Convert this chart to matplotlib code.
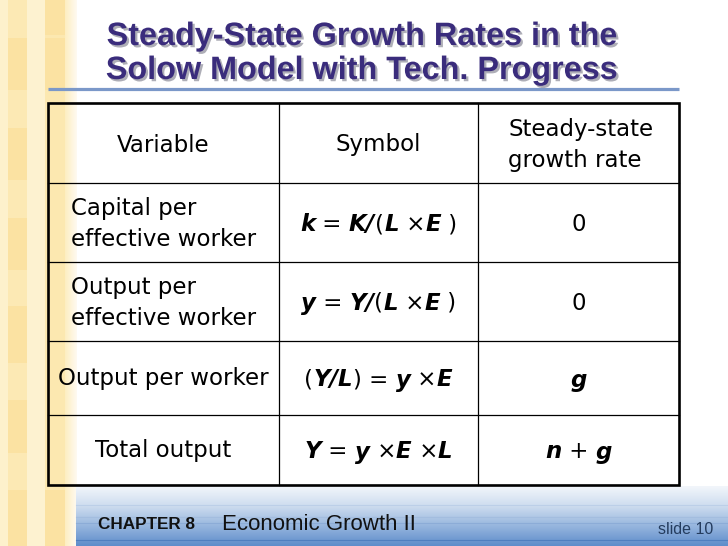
import numpy as np
import matplotlib
matplotlib.use("Agg")
import matplotlib.pyplot as plt
import matplotlib.patheffects as pe
from matplotlib.patches import Rectangle

# Slide content
title_lines = ["Steady-State Growth Rates in the", "Solow Model with Tech. Progress"]
headers = ["Variable", "Symbol", "Steady-state\ngrowth rate"]
variables = ["Capital per\neffective worker", "Output per\neffective worker",
             "Output per worker", "Total output"]
# (text, bold-italic?) pieces
symbols = [
    [("k", 1), (" = ", 0), ("K/", 1), ("(", 0), ("L", 1), (" \u00d7", 0), ("E", 1), (" )", 0)],
    [("y", 1), (" = ", 0), ("Y/", 1), ("(", 0), ("L", 1), (" \u00d7", 0), ("E", 1), (" )", 0)],
    [("(", 0), ("Y/L", 1), (") = ", 0), ("y", 1), (" \u00d7", 0), ("E", 1)],
    [("Y", 1), (" = ", 0), ("y", 1), (" \u00d7", 0), ("E", 1), (" \u00d7", 0), ("L", 1)],
]
rates = [
    [("0", 0)],
    [("0", 0)],
    [("g", 1)],
    [("n", 1), (" + ", 0), ("g", 1)],
]
footer_chapter = "CHAPTER 8"
footer_title = "Economic Growth II"
footer_slide = "slide 10"

# layout (pixels)
col_edges = [48, 279, 478, 679]
row_edges = [103, 183, 262, 341, 415, 485]
TABLE_FS = 16.5
LS = 1.45

fig = plt.figure(figsize=(7.28, 5.46), dpi=100)
ax = fig.add_axes([0, 0, 1, 1])
ax.set_xlim(0, 728)
ax.set_ylim(546, 0)
ax.axis("off")

# left decorative stripes
stripe_cols = [(0, 8, "#fdf1cc"), (8, 27, "#fce9b4"), (27, 45, "#fdf2d0"),
               (45, 65, "#fce8b0")]
for x0, x1, c in stripe_cols:
    ax.add_patch(Rectangle((x0, 0), x1 - x0, 546, color=c, lw=0, zorder=0))
fade = np.linspace(0, 1, 16)[None, :]
fade_cmap = matplotlib.colors.LinearSegmentedColormap.from_list(
    "fade", ["#fdeec2", "#fffaf0"])
ax.imshow(fade, extent=[65, 77, 546, 0], cmap=fade_cmap, aspect="auto", zorder=0)
for y0, y1 in [(38, 90), (128, 180), (218, 270), (306, 363), (400, 453), (490, 546)]:
    ax.add_patch(Rectangle((8, y0), 19, y1 - y0, color="#fbe2a2", lw=0, zorder=0))
for y0, y1 in [(0, 35), (38, 90), (490, 546)]:
    ax.add_patch(Rectangle((45, y0), 20, y1 - y0, color="#fbe2a2", lw=0, zorder=0))

# footer band
grad = np.linspace(0, 1, 64)[:, None]
cmap = matplotlib.colors.LinearSegmentedColormap.from_list(
    "band", ["#f2f6fb", "#cddcef", "#97b6de", "#5f8dcb"])
ax.imshow(grad, extent=[76, 728, 546, 486], cmap=cmap, aspect="auto", zorder=1)
for yl, c in [(505, "#bccfe8"), (517, "#a3bddf"), (523, "#8cacd7"), (540, "#4f7fc0")]:
    ax.plot([76, 728], [yl, yl], color=c, lw=0.8, zorder=2)

ax.text(98, 529, footer_chapter, fontsize=12.3, fontweight="bold",
        family="Liberation Sans", color="#111111", va="baseline", zorder=3)
ax.text(222, 529.5, footer_title, fontsize=16, family="Liberation Sans",
        color="#111111", va="baseline", zorder=3)
ax.text(713, 534, footer_slide, fontsize=11.5, family="Liberation Sans",
        color="#243c5e", va="baseline", ha="right", zorder=3)

# title
for i, line in enumerate(title_lines):
    ax.text(362, 45 + i * 34, line, fontsize=23.3, fontweight="bold",
            family="Liberation Sans", color="#3a2c7c", ha="center", va="baseline",
            path_effects=[pe.withSimplePatchShadow(offset=(1.6, -1.6),
                                                  shadow_rgbFace=(0.55, 0.55, 0.6),
                                                  alpha=0.7)])
ax.plot([48, 679], [89, 89], color="#7b98c9", lw=2.3, solid_capstyle="butt")

# table grid
for x in col_edges[1:-1]:
    ax.plot([x, x], [row_edges[0], row_edges[-1]], color="black", lw=0.9)
for y in row_edges[1:-1]:
    ax.plot([col_edges[0], col_edges[-1]], [y, y], color="black", lw=0.9)
ax.add_patch(Rectangle((col_edges[0], row_edges[0]), col_edges[-1] - col_edges[0],
                       row_edges[-1] - row_edges[0], fill=False, ec="black", lw=1.9,
                       zorder=4))

row_c = [(row_edges[i] + row_edges[i + 1]) / 2 for i in range(len(row_edges) - 1)]
col_c = [(col_edges[i] + col_edges[i + 1]) / 2 for i in range(len(col_edges) - 1)]

# headers
ax.text(col_c[0], row_c[0] + 2, headers[0], fontsize=TABLE_FS, ha="center", va="center")
ax.text(col_c[1], row_c[0] + 2, headers[1], fontsize=TABLE_FS, ha="center", va="center")
ax.text(508, row_c[0] + 2, headers[2], fontsize=TABLE_FS, ha="left", va="center",
        linespacing=LS)

# variable column
for i, v in enumerate(variables):
    if "\n" in v:
        ax.text(71, row_c[i + 1] + 1.5, v, fontsize=TABLE_FS, ha="left", va="center",
                linespacing=LS)
    else:
        ax.text(col_c[0], row_c[i + 1] + 1, v, fontsize=TABLE_FS, ha="center",
                va="center")

renderer = fig.canvas.get_renderer()


def seg_width(s, bi):
    kw = dict(fontsize=TABLE_FS, family="DejaVu Sans")
    if bi:
        kw.update(fontweight="bold", fontstyle="italic")
    t1 = ax.text(0, 0, "X" + s + "X", **kw)
    t2 = ax.text(0, 0, "XX", **kw)
    w = t1.get_window_extent(renderer).width - t2.get_window_extent(renderer).width
    t1.remove()
    t2.remove()
    return w


def rich(xc, yc, pieces):
    widths = [seg_width(s, bi) for s, bi in pieces]
    x = xc - sum(widths) / 2
    for (s, bi), w in zip(pieces, widths):
        kw = dict(fontsize=TABLE_FS, family="DejaVu Sans")
        if bi:
            kw.update(fontweight="bold", fontstyle="italic")
        ax.text(x, yc, s.replace(" ", "\u00a0"), ha="left", va="baseline", **kw)
        x += w


for i in range(4):
    rich(col_c[1], row_c[i + 1] + 8.5, symbols[i])
    rich(col_c[2], row_c[i + 1] + 8.5, rates[i])

fig.savefig("out.png", dpi=100)
